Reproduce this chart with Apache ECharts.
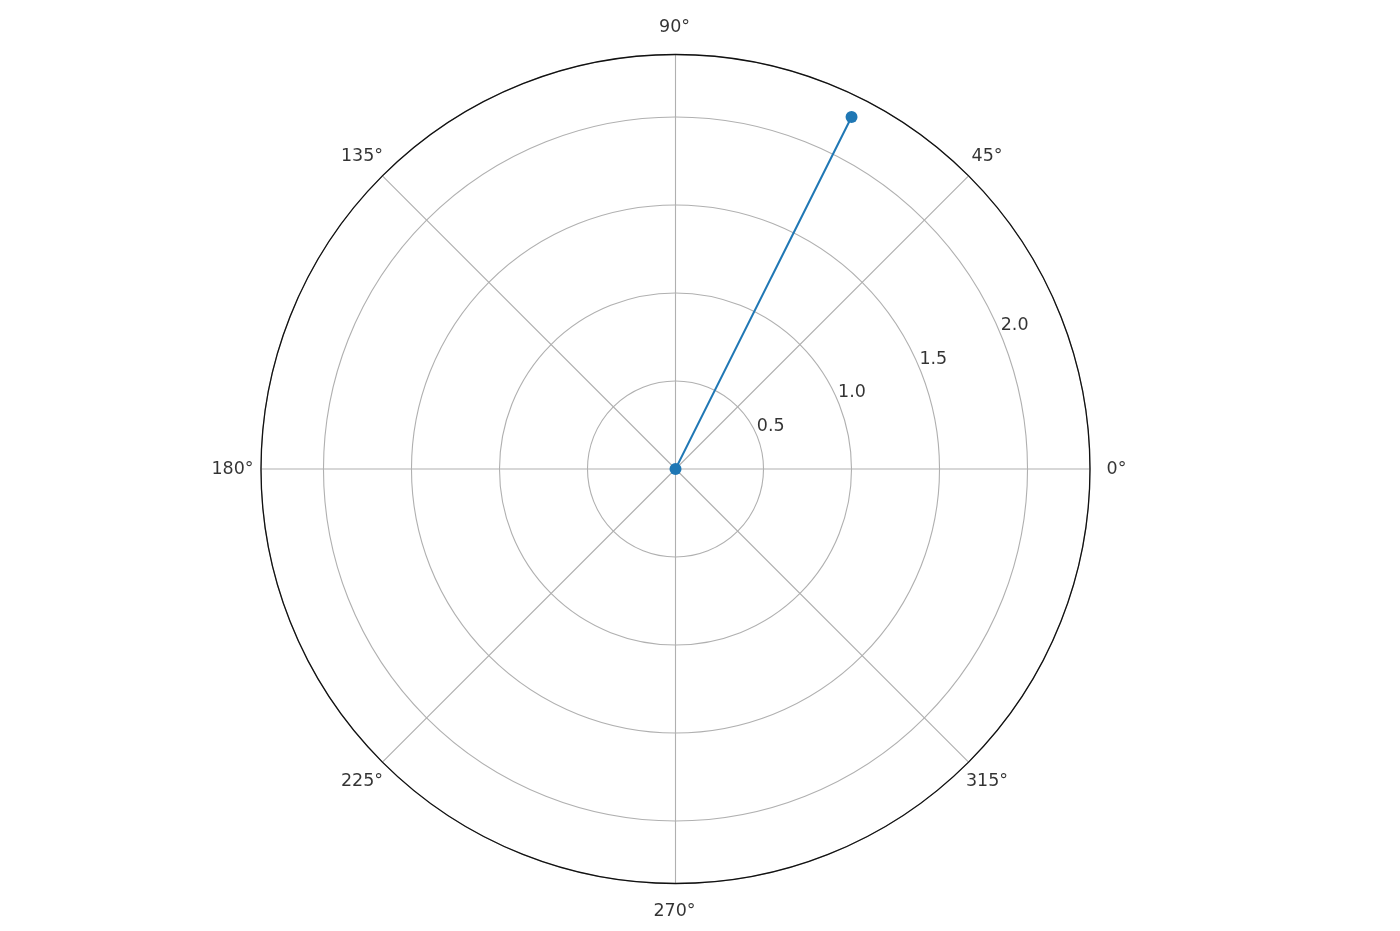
<!DOCTYPE html>
<html>
<head>
<meta charset="utf-8">
<script src="https://cdn.jsdelivr.net/npm/echarts@6/dist/echarts.min.js"></script>
<style>
html, body { margin: 0; padding: 0; background: #fff; }
#chart { width: 1400px; height: 931px; }
</style>
</head>
<body>
<div id="chart"></div>
<script>
// Data: one line from origin to point r≈2.236 at θ≈63.43°
const lineRadii = [0, 2.236];
const lineAngles = [63.43, 63.43];

// Axis settings / tick labels
const radiusMax = 2.355;
const radiusTicks = [0.5, 1.0, 1.5, 2.0];
const radiusTickLabels = ['0.5', '1.0', '1.5', '2.0'];
const radiusLabelAngle = 22.5;
const angleTicks = [0, 45, 90, 135, 180, 225, 270, 315];
const angleTickLabels = ['0°', '45°', '90°', '135°', '180°', '225°', '270°', '315°'];

const FONT = 'DejaVu Sans';
const FS = 17.5;
const TXT = '#000000';
const BLUE = '#1f77b4';

const chart = echarts.init(document.getElementById('chart'), null, { renderer: 'canvas' });

const lineData = lineRadii.map((r, i) => [r, lineAngles[i]]);
const rLabelData = radiusTicks.map((r, i) => ({ value: [r, radiusLabelAngle], name: radiusTickLabels[i] }));
const aLabelData = angleTicks.map((a, i) => ({ value: [1, a], name: angleTickLabels[i] }));

chart.setOption({
  animation: false,
  backgroundColor: '#ffffff',
  polar: [
    { center: [675.5, 469], radius: 414.5 },
    { center: [674.5, 469], radius: 442 }
  ],
  angleAxis: [
    {
      polarIndex: 0,
      type: 'value', min: 0, max: 360, interval: 45,
      startAngle: 0, clockwise: false,
      axisLine: { show: true, lineStyle: { color: '#111111', width: 1.3 } },
      axisTick: { show: false },
      axisLabel: { show: false },
      splitLine: { show: true, lineStyle: { color: '#b0b0b0', width: 1.1 } },
      z: 2
    },
    {
      polarIndex: 1, show: false,
      type: 'value', min: 0, max: 360,
      startAngle: 0, clockwise: false
    }
  ],
  radiusAxis: [
    {
      polarIndex: 0,
      type: 'value', min: 0, max: radiusMax, interval: 0.5,
      axisLine: { show: false },
      axisTick: { show: false },
      axisLabel: { show: false },
      splitLine: { show: true, showMaxLine: false, lineStyle: { color: '#b0b0b0', width: 1.1 } },
      z: 1
    },
    {
      polarIndex: 1, show: false,
      type: 'value', min: 0, max: 1
    }
  ],
  series: [
    {
      type: 'line', coordinateSystem: 'polar', polarIndex: 0, data: lineData,
      symbol: 'circle', symbolSize: 12, showAllSymbol: true,
      lineStyle: { color: BLUE, width: 2 },
      itemStyle: { color: BLUE },
      silent: true, z: 5
    },
    {
      type: 'scatter', coordinateSystem: 'polar', polarIndex: 0, data: rLabelData,
      symbolSize: 0, silent: true,
      label: {
        show: true, position: 'right', distance: 0,
        formatter: p => p.name,
        align: 'left', verticalAlign: 'bottom',
        fontFamily: FONT, fontSize: FS, color: TXT
      }
    },
    {
      type: 'scatter', coordinateSystem: 'polar', polarIndex: 1, data: aLabelData,
      symbolSize: 0, silent: true,
      label: {
        show: true, position: 'inside',
        formatter: p => p.name,
        align: 'center', verticalAlign: 'middle',
        fontFamily: FONT, fontSize: FS, color: TXT
      }
    }
  ]
});
</script>
</body>
</html>
